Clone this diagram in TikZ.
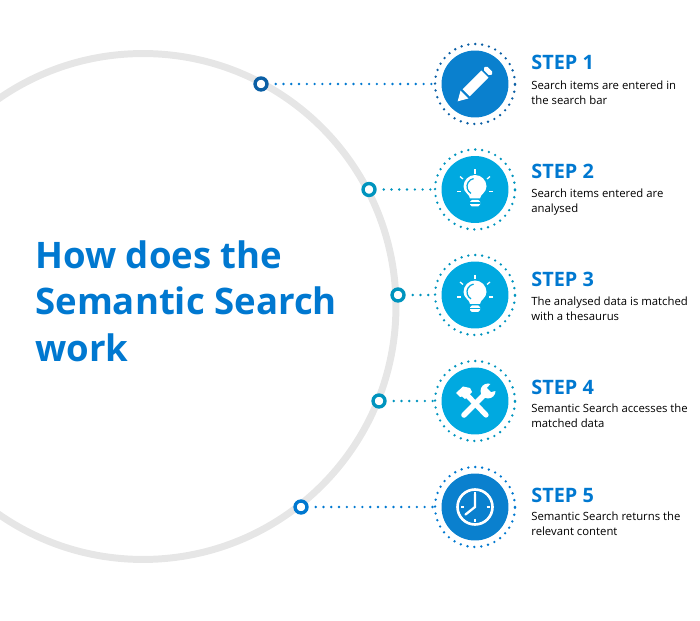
\documentclass[tikz,border=0pt]{standalone}
\usepackage{fontspec}
\setmainfont{Open Sans}
\definecolor{stepblue}{HTML}{0A80CE}
\definecolor{stepcyan}{HTML}{00A9E0}
\definecolor{headblue}{HTML}{0078D0}
\definecolor{darkdot}{HTML}{0B5FA5}
\definecolor{tealdot}{HTML}{0094BE}
\definecolor{ringgrey}{HTML}{E6E6E6}
\tikzset{
	bigring/.style={circle, draw=ringgrey, line width=3.97pt, minimum size=10.12cm, outer sep=0pt},
	disc/.style={circle, fill=#1, minimum size=1.34cm, inner sep=0pt, outer sep=0pt},
	dotring/.style={circle, draw=#1, line width=1.5pt, line cap=round, dash pattern=on 0pt off 3.958pt, minimum size=1.6cm, inner sep=0pt, outer sep=0pt},
	joint/.style={circle, draw=#1, fill=white, line width=1.9pt, minimum size=0.24cm, inner sep=0pt, outer sep=.95pt},
	dotline/.style={draw=#1, line width=1.5pt, line cap=round, dash pattern=on 0pt off 4.43pt, shorten <=4pt},
	title/.style={anchor=north west, inner sep=0pt, align=left, text=headblue, font=\fontsize{20.8}{26.6}\selectfont\bfseries},
	stephead/.style={anchor=base west, inner sep=0pt, text=headblue, font=\fontsize{11.3}{13}\selectfont\bfseries},
	stepbody/.style={anchor=north west, inner sep=0pt, align=left, text=black, font=\fontsize{6.45}{8.5}\selectfont},
	pencil/.pic={
		\begin{scope}[rotate=45]
			\fill[white] (-24.5,0) -- (-15,-5.5) -- (-15,5.5) -- cycle;
			\fill[white] (-12.5,-5) rectangle (14,5);
			\fill[white, rounded corners=1pt] (16,-5) rectangle (21,5);
		\end{scope}
	},
	bulb/.pic={
		\fill[white] (-5,9) .. controls (-5,5) and (-11.5,3) .. (-11.5,-3) arc (180:360:11.5) .. controls (11.5,3) and (5,5) .. (5,9) -- cycle;
		\fill[white, rounded corners=1pt] (-5,10.5) rectangle (5,17);
		\draw[stepcyan, line width=.6pt] (-5,13.5) -- (5,13.5);
		\draw[stepcyan, line width=.7pt] (-4,3.9) arc (120:260:8);
		\draw[white, line width=.7pt] (0,-20) -- (0,-15.5);
		\draw[white, line width=.7pt] (-18,2) -- (-14,2);
		\draw[white, line width=.7pt] (18,2) -- (14,2);
		\draw[white, line width=.7pt] (-15,-13) -- (-12,-10.5);
		\draw[white, line width=.7pt] (15,-13) -- (12,-10.5);
	},
	tools/.pic={
		\draw[white, line width=3.2pt, line cap=round] (-11,14) -- (9,-6);
		\fill[white] (13,-10) circle (7.5);
		\fill[stepcyan] (12,-13) -- (19,-21) -- (24,-11) -- (16,-9) -- cycle;
		\draw[white, line width=3pt, line cap=round] (11,14) -- (-8,-6);
		\fill[white] (-19,-8) -- (-12,-14.5) -- (-5,-13) -- (-3,-9) -- (-10,-2) -- (-13,-4.5) -- (-15,-4) -- cycle;
	},
	clockface/.pic={
		\draw[white, line width=1.5pt] (0,0) circle (17.5);
		\draw[white, line width=1.3pt, line cap=round] (0,-13) -- (0,0) -- (-9.5,7.5);
		\draw[white, line width=.9pt] (0,-13.5) -- (0,-15);
		\draw[white, line width=.9pt] (0,11.5) -- (0,14.5);
		\draw[white, line width=.9pt] (-11.5,0) -- (-14.5,0);
		\draw[white, line width=.9pt] (11.5,0) -- (14.5,0);
	}
}

\begin{document}
\begin{tikzpicture}[x=0.02cm, y=-0.02cm]
	\useasboundingbox (0,0) rectangle (700,621);
	\begin{scope}
		\clip (0,0) rectangle (700,621);
		\node[bigring] (Main) at (143,306.5) {};
	\end{scope}

	\node[title] (Title) at (35,240) {How does the\\Semantic Search\\work};

	% joints on the big ring
	\node[joint=darkdot] (P1) at (261,84) {};
	\node[joint=tealdot] (P2) at (369,189.5) {};
	\node[joint=tealdot] (P3) at (398,295) {};
	\node[joint=tealdot] (P4) at (379,401) {};
	\node[joint=headblue] (P5) at (301,507) {};

	% step circles
	\node[disc=stepblue] (S1) at (475,84) {};
	\node[disc=stepcyan] (S2) at (475,189.5) {};
	\node[disc=stepcyan] (S3) at (475,295) {};
	\node[disc=stepcyan] (S4) at (475,401) {};
	\node[disc=stepblue] (S5) at (475,507) {};

	\node[dotring=darkdot] (R1) at (S1) {};
	\node[dotring=tealdot] (R2) at (S2) {};
	\node[dotring=tealdot] (R3) at (S3) {};
	\node[dotring=tealdot] (R4) at (S4) {};
	\node[dotring=headblue] (R5) at (S5) {};

	\draw[dotline=headblue] (P1) -- (R1);
	\draw[dotline=tealdot] (P2) -- (R2);
	\draw[dotline=tealdot] (P3) -- (R3);
	\draw[dotline=tealdot] (P4) -- (R4);
	\draw[dotline=headblue] (P5) -- (R5);

	% icons
	\pic at (S1) {pencil};
	\pic at (S2) {bulb};
	\pic at (S3) {bulb};
	\pic at (S4) {tools};
	\pic at (S5) {clockface};

	% texts
	\node[stephead] (H1) at (531,70) {STEP 1};
	\node[stepbody] (B1) at (531,81) {Search items are entered in\\the search bar};
	\node[stephead] (H2) at (531,178.5) {STEP 2};
	\node[stepbody] (B2) at (531,189) {Search items entered are\\analysed};
	\node[stephead] (H3) at (531,286.5) {STEP 3};
	\node[stepbody] (B3) at (531,297) {The analysed data is matched\\with a thesaurus};
	\node[stephead] (H4) at (531,394.5) {STEP 4};
	\node[stepbody] (B4) at (531,404) {Semantic Search accesses the\\matched data};
	\node[stephead] (H5) at (531,502) {STEP 5};
	\node[stepbody] (B5) at (531,512) {Semantic Search returns the\\relevant content};
\end{tikzpicture}
\end{document}
